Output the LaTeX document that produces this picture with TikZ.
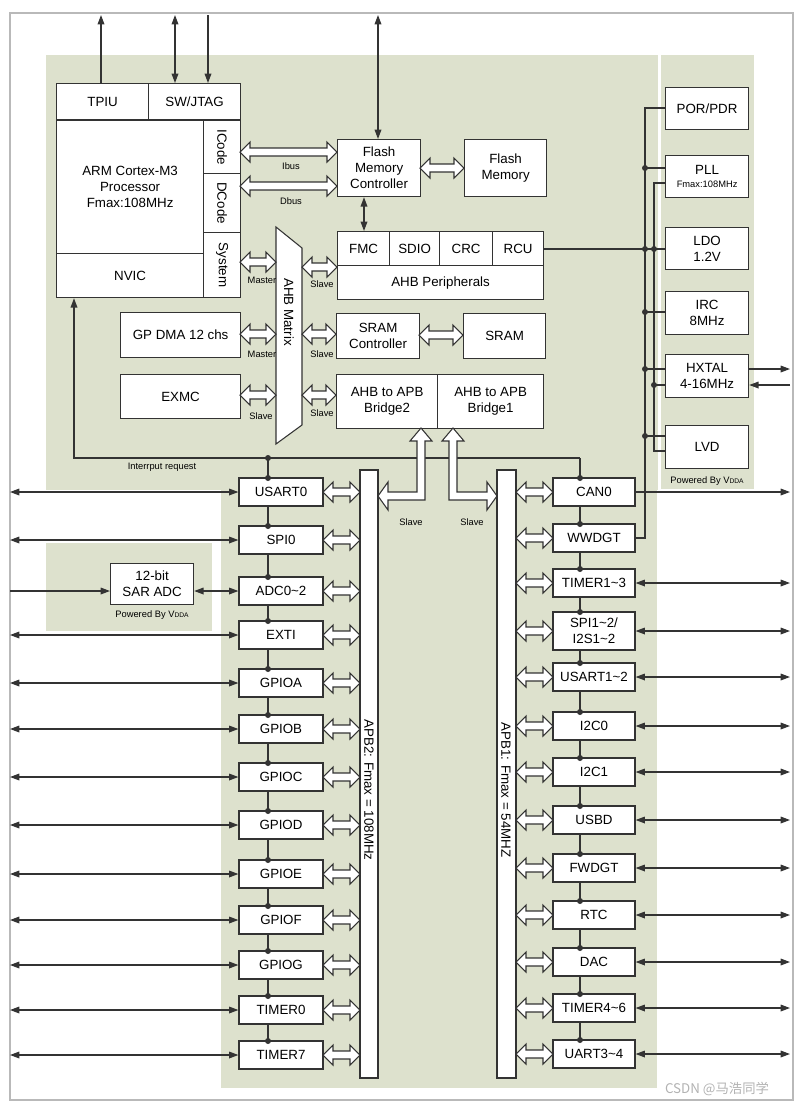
\documentclass[tikz,border=0pt]{standalone}
\usepackage{fontspec}
\setmainfont{Liberation Sans}
\newfontfamily\cjk{Noto Sans CJK SC}
\usetikzlibrary{arrows.meta}
\definecolor{bg}{HTML}{DDE1CD}
\definecolor{ln}{HTML}{333333}
\newcommand\bx[6]{\node[box,anchor=north west,minimum width={(#4-#2)*0.75pt},minimum height={(#5-#3)*0.75pt}] (#1) at (#2,#3) {#6};}
\newcommand\hda[3]{\filldraw[hol] (#1,#3) -- (#1+10,#3-10) -- (#1+10,#3-4) -- (#2-10,#3-4) -- (#2-10,#3-10) -- (#2,#3) -- (#2-10,#3+10) -- (#2-10,#3+4) -- (#1+10,#3+4) -- (#1+10,#3+10) -- cycle;}
\begin{document}
\begin{tikzpicture}[x=0.75pt,y=-0.75pt,
  box/.style={draw=ln,line width=0.9pt,fill=white,inner sep=0pt,align=center,font=\fontsize{10}{12}\selectfont},
  hol/.style={draw=ln,line width=0.8pt,fill=white},
  small/.style={font=\fontsize{7}{8}\selectfont,inner sep=0pt},
  con/.style={draw=ln,line width=0.9pt},
  tip/.style={-{Triangle[length=7pt,width=5pt]}},
  dtip/.style={{Triangle[length=7pt,width=5pt]}-{Triangle[length=7pt,width=5pt]}},
  dot/.style={circle,fill=ln,inner sep=0pt,minimum size=4.5pt}]
\useasboundingbox (0,0) rectangle (803,1108);
% regions
\fill[bg] (46,55) rectangle (658,490);
\fill[bg] (221,490) rectangle (657,1088);
\fill[bg] (661,55) rectangle (754,489);
\fill[bg] (46,543) rectangle (212,631);
\draw[gray!55,line width=1.5pt] (10,13) rectangle (793,1100);

% coordinates
\coordinate (t1) at (101,15); \coordinate (t2) at (175,15); \coordinate (t3) at (208,15); \coordinate (t4) at (378,15);
\coordinate (irq) at (268,458);
\coordinate (irqL) at (74,458); \coordinate (irqR) at (580,458);

% CPU
\bx{tpiu}{56}{83}{148}{120}{TPIU}
\bx{jtag}{148}{83}{240}{120}{SW/JTAG}
\bx{cpu}{56}{120}{203}{253}{ARM Cortex-M3\\Processor\\Fmax:108MHz}
\bx{nvic}{56}{253}{203}{297}{NVIC}
\bx{icode}{203}{120}{240}{173}{}
\bx{dcode}{203}{173}{240}{232}{}
\bx{sys}{203}{232}{240}{297}{}
\node[rotate=-90,font=\fontsize{10}{12}\selectfont] at (icode) {ICode};
\node[rotate=-90,font=\fontsize{10}{12}\selectfont] at (dcode) {DCode};
\node[rotate=-90,font=\fontsize{10}{12}\selectfont] at (sys) {System};
\draw[ln,line width=2pt] (56,120) -- (240,120);

\draw[con,tip] (tpiu.north -| t1) -- (t1);
\draw[con,dtip] (t2) -- (jtag.north -| t2);
\draw[con,tip] (t3) -- (jtag.north -| t3);

% flash etc
\bx{fmc}{337}{139}{420}{196}{Flash\\Memory\\Controller}
\bx{fmem}{464}{139}{546}{196}{Flash\\Memory}
\draw[con,dtip] (t4) -- (fmc.north -| t4);
\bx{pfmc}{337}{231}{389}{265}{FMC}
\bx{psdio}{389}{231}{439}{265}{SDIO}
\bx{pcrc}{439}{231}{492}{265}{CRC}
\bx{prcu}{492}{231}{543}{265}{RCU}
\bx{ahbp}{337}{265}{543}{299}{AHB Peripherals}
\draw[con,dtip] (fmc.south -| 364,0) -- (pfmc.north -| 364,0);
\bx{sramc}{336}{313}{419}{358}{SRAM\\Controller}
\bx{sram}{463}{313}{545}{358}{SRAM}
\bx{dma}{120}{312}{240}{357}{GP DMA 12 chs}
\bx{exmc}{120}{374}{240}{418}{EXMC}
\bx{br2}{336}{374}{437}{428}{AHB to APB\\Bridge2}
\bx{br1}{437}{374}{543}{428}{AHB to APB\\Bridge1}

\filldraw[hol] (276,227) -- (302,248) -- (302,425) -- (276,444) -- cycle;
\node[rotate=-90,font=\fontsize{10}{12}\selectfont] (mtx) at (289,312) {AHB Matrix};

\hda{240}{337}{152} \hda{240}{337}{186}
\node[small] at (291,166) {Ibus}; \node[small] at (291,201) {Dbus};
\hda{420}{464}{168} \hda{419}{463}{335}
\hda{240}{276}{262} \hda{302}{337}{267}
\hda{240}{276}{334} \hda{302}{336}{334}
\hda{240}{276}{395} \hda{302}{336}{395}
\node[small] at (262,280) {Master}; \node[small] at (322,284) {Slave};
\node[small] at (262,354) {Master}; \node[small] at (322,354) {Slave};
\node[small] at (261,416) {Slave}; \node[small] at (322,413) {Slave};

% interrupt
\draw[con,tip] (irq) -- (irqL) -- (nvic.south -| irqL);
\draw[con] (irq) -- (irqR);
\node[small] at (162,467) {Interrput request};

% buses
\filldraw[hol] (360,470) rectangle (378,1078);
\filldraw[hol] (497,470) rectangle (516,1078);
\node[rotate=-90,font=\fontsize{10}{12}\selectfont] at (369,790) {APB2: Fmax = 108MHz};
\node[rotate=-90,font=\fontsize{10}{12}\selectfont] at (506,790) {APB1: Fmax = 54MHZ};
\filldraw[hol] (421,428) -- (432,441) -- (425,441) -- (425,500) -- (388,500) -- (388,510) -- (378,496) -- (388,482) -- (388,492) -- (417,492) -- (417,441) -- (410,441) -- cycle;
\filldraw[hol] (453,428) -- (464,441) -- (457,441) -- (457,492) -- (487,492) -- (487,482) -- (497,496) -- (487,510) -- (487,500) -- (449,500) -- (449,441) -- (442,441) -- cycle;
\node[small] at (411,522) {Slave}; \node[small] at (472,522) {Slave};

% left column
\draw[con] (irq) -- (268,1041);
\node[dot] at (irq) {};
\foreach \n/\t/\y in {usart0/USART0/492,spi0/SPI0/540,adc/ADC0\textasciitilde2/591,exti/EXTI/635,gpioa/GPIOA/683,gpiob/GPIOB/729,gpioc/GPIOC/777,gpiod/GPIOD/825,gpioe/GPIOE/874,gpiof/GPIOF/920,gpiog/GPIOG/965,timer0/TIMER0/1010,timer7/TIMER7/1055}{
  \node[box,minimum width=84*0.75pt,minimum height=28*0.75pt] (\n) at (281,\y) {\t};
  \node[dot] at (268,\y-14) {};
  \hda{323}{360}{\y}
}
\foreach \n/\y in {usart0/492,spi0/540,exti/635,gpioa/683,gpiob/729,gpioc/777,gpiod/825,gpioe/874,gpiof/920,gpiog/965,timer0/1010,timer7/1055}{
  \coordinate (L\n) at (10,\y);
  \draw[con,dtip] (L\n) -- (\n.west);
}
\bx{sar}{110}{563}{193}{604}{12-bit\\SAR ADC}
\node[small] at (152,615) {Powered By V\textsc{\fontsize{5}{6}\selectfont DDA}};
\coordinate (Ladc) at (10,591);
\draw[con,tip] (Ladc) -- (sar.west|-Ladc);
\draw[con,dtip] (sar.east|-Ladc) -- (adc.west);

% right column
\draw[con] (irqR) -- (580,1040);
\foreach \n/\t/\y/\h in {can/CAN0/492/28,wwdgt/WWDGT/538/28,tim13/TIMER1\textasciitilde3/583/28,spi12/{SPI1\textasciitilde2/\\I2S1\textasciitilde2}/631/38,usart12/USART1\textasciitilde2/677/28,i2c0/I2C0/726/28,i2c1/I2C1/772/28,usbd/USBD/820/28,fwdgt/FWDGT/868/28,rtc/RTC/915/28,dac/DAC/962/28,tim46/TIMER4\textasciitilde6/1008/28,uart34/UART3\textasciitilde4/1054/28}{
  \node[box,minimum width=82*0.75pt,minimum height=\h*0.75pt] (\n) at (594,\y) {\t};
  \node[dot] at (580,\y-\h/2) {};
  \hda{516}{553}{\y}
}
\foreach \n/\y in {tim13/583,spi12/631,usart12/677,i2c0/726,i2c1/772,usbd/820,fwdgt/868,rtc/915,dac/962,tim46/1008,uart34/1054}{
  \coordinate (R\n) at (790,\y);
  \draw[con,dtip] (\n.east) -- (R\n);
}
\coordinate (Rcan) at (790,492);
\draw[con,tip] (can.east) -- (Rcan);

% right panel
\bx{por}{665}{87}{748}{129}{POR/PDR}
\bx{pll}{665}{155}{748}{197}{PLL\\[-2pt]{\fontsize{7}{8}\selectfont Fmax:108MHz}}
\bx{ldo}{665}{227}{748}{269}{LDO\\1.2V}
\bx{irc}{665}{291}{748}{334}{IRC\\8MHz}
\bx{hxtal}{665}{354}{748}{397}{HXTAL\\4-16MHz}
\bx{lvd}{665}{425}{748}{468}{LVD}
\node[small] at (707,481) {Powered By V\textsc{\fontsize{5}{6}\selectfont DDA}};
\draw[con] (wwdgt.east) -- (645,538) -- (645,108) -- (por.west|-0,108);
\draw[con] (645,168) -- (pll.west|-0,168);
\draw[con] (prcu.east|-0,249) -- (ldo.west|-0,249);
\draw[con] (645,312) -- (irc.west|-0,312);
\draw[con] (645,369) -- (hxtal.west|-0,369);
\draw[con] (645,436) -- (lvd.west|-0,436);
\draw[con] (pll.west|-0,183) -- (654,183) -- (654,451) -- (lvd.west|-0,451);
\draw[con] (654,385) -- (hxtal.west|-0,385);
\foreach \p in {(645,168),(645,249),(654,249),(645,312),(645,369),(654,385),(645,436)} \node[dot] at \p {};
\coordinate (hx1) at (790,369); \coordinate (hx2) at (790,385);
\draw[con,tip] (hxtal.east|-hx1) -- (hx1);
\draw[con,tip] (hx2) -- (hxtal.east|-hx2);

\node[gray!60,font=\cjk\fontsize{10}{12}\selectfont] at (717,1089) {CSDN @马浩同学};
\end{tikzpicture}
\end{document}
